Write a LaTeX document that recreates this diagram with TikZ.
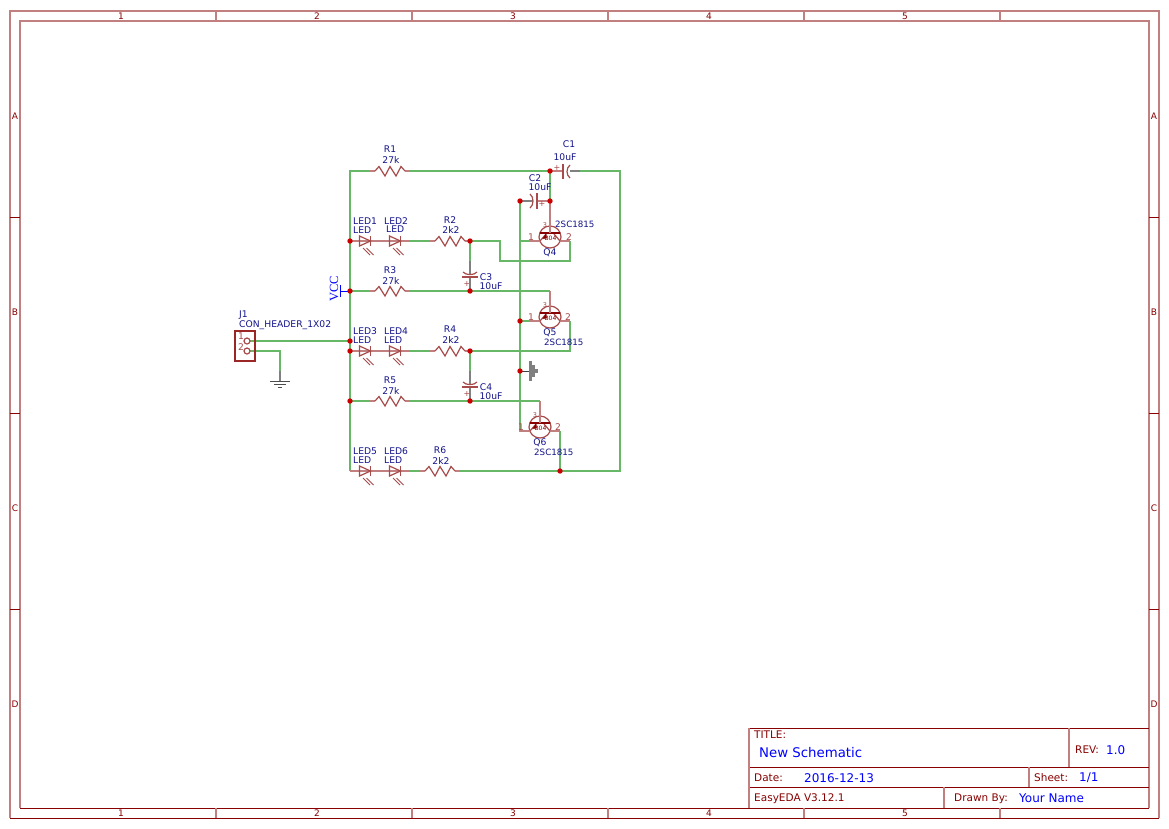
\documentclass[tikz,border=0pt]{standalone}
\usepackage{fontspec}
\setmainfont{DejaVu Sans}
\newfontfamily\vccfont{Liberation Serif}
\usepackage{xcolor}
\definecolor{sheetred}{HTML}{880000}
\definecolor{softred}{HTML}{C27F7F}
\definecolor{partred}{HTML}{A84A4A}
\definecolor{softgreen}{HTML}{66B866}
\definecolor{labelblue}{HTML}{14148C}
\definecolor{titleblue}{HTML}{0000FF}
\definecolor{dotred}{HTML}{CC0000}
\tikzset{
  frame/.style={draw=sheetred,line width=1pt},
  softframe/.style={draw=softred,line width=1.8pt},
  wire/.style={draw=softgreen,line width=1.5pt},
  part/.style={draw=partred,line width=1.2pt},
  softpart/.style={draw=softred,line width=1.6pt},
  lead/.style={draw=gray,line width=1.6pt},
  lbl/.style={text=labelblue,inner sep=0pt,font=\fontsize{9.2}{10}\selectfont},
  lblw/.style={lbl,anchor=west},
  partno/.style={lblw,font=\fontsize{8.7}{10}\selectfont},
  pinlbl/.style={text=partred,inner sep=0pt,font=\fontsize{9.2}{10}\selectfont},
  zone/.style={text=sheetred,inner sep=0pt,font=\fontsize{9}{10}\selectfont},
  tbred/.style={text=sheetred,inner sep=0pt,anchor=west,font=\fontsize{10.5}{12}\selectfont},
  tbblue/.style={text=titleblue,inner sep=0pt,anchor=west,font=\fontsize{12}{14}\selectfont},
  dot/.style={circle,fill=dotred,inner sep=0pt,minimum size=5.4pt},
  pics/resistor/.style={code={
    \draw[softpart] (0,0)--(5,0) (35,0)--(40,0);
    \draw[part] (5,0)--(9,-4.5)--(15,5)--(20,-4.5)--(26,5)--(31,-4.5)--(35,0);
  }},
  pics/led/.style={code={
    \draw[softpart] (0,0)--(30,0);
    \draw[part] (9.5,-5)--(9.5,5)--(20.5,0)--cycle;
    \draw[part] (20.5,-5)--(20.5,5);
    \draw[part,line width=0.8pt] (13,7)--(20,14);
    \draw[part,line width=0.8pt] (16.5,7)--(23.5,14);
  }},
  pics/npn/.style={code={
    \draw[part] (0,-4) circle (11);
    \draw[softpart] (-20,0)--(-10,0);
    \draw[softpart] (20,0)--(10,0);
    \draw[part] (-10,0)--(-4,-7);
    \draw[part] (10,0)--(4,-7);
    \draw[draw=sheetred,line width=1.6pt] (-10,-8)--(10,-8);
    \draw[draw=sheetred,fill=sheetred,line width=0.5pt] (-7,-2.5)--(-4,-7)--(-3.5,-3)--cycle;
    \node[pinlbl,font=\fontsize{6.5}{7}\selectfont] (-base) at (-5,-16) {3};
    \node[pinlbl,text=sheetred,font=\fontsize{6}{7}\selectfont] (-core) at (0.5,-2.5) {B04};
  }},
}
\begin{document}
\begin{tikzpicture}[x=1pt,y=-1pt]
  \useasboundingbox (0,0) rectangle (1169,828);
  \fill[white] (0,0) rectangle (1169,828);

  % sheet
  \draw[softframe] (10,818)--(10,11)--(1159,11)--(1159,818);
  \draw[softframe] (20,808)--(20,21)--(1149,21)--(1149,808);
  \draw[frame] (10,818)--(1159,818);
  \draw[frame] (20,808)--(1149,808);
  \draw[softframe] (216,11)--(216,21) (412,11)--(412,21) (608,11)--(608,21) (804,11)--(804,21) (1000,11)--(1000,21);
  \draw[softframe] (216,808)--(216,818) (412,808)--(412,818) (608,808)--(608,818) (804,808)--(804,818) (1000,808)--(1000,818);
  \draw[frame] (10,217)--(20,217) (10,413)--(20,413) (10,609)--(20,609);
  \draw[frame] (1149,217)--(1159,217) (1149,413)--(1159,413) (1149,609)--(1159,609);
  \node[zone] (top1) at (121,16) {1};
  \node[zone] (top2) at (317,16) {2};
  \node[zone] (top3) at (513,16) {3};
  \node[zone] (top4) at (709,16) {4};
  \node[zone] (top5) at (905,16) {5};
  \node[zone] (bot1) at (121,813) {1};
  \node[zone] (bot2) at (317,813) {2};
  \node[zone] (bot3) at (513,813) {3};
  \node[zone] (bot4) at (709,813) {4};
  \node[zone] (bot5) at (905,813) {5};
  \node[zone] (lefta) at (15,116) {A};
  \node[zone] (leftb) at (15,312) {B};
  \node[zone] (leftc) at (15,508) {C};
  \node[zone] (leftd) at (15,704) {D};
  \node[zone] (righta) at (1154,116) {A};
  \node[zone] (rightb) at (1154,312) {B};
  \node[zone] (rightc) at (1154,508) {C};
  \node[zone] (rightd) at (1154,704) {D};

  % title block
  \draw[frame] (749,728)--(1149,728) (749,767)--(1149,767) (749,787)--(1149,787);
  \draw[softframe] (749,728)--(749,808) (1069,728)--(1069,767) (1029,767)--(1029,787) (944,787)--(944,808);
  \node[tbred] (tbtitle) at (754,735) {TITLE:};
  \node[tbblue,font=\fontsize{13.3}{15}\selectfont] (tbname) at (759,753) {New Schematic};
  \node[tbred] (tbrev) at (1075,750) {REV:};
  \node[tbblue] (tbrevno) at (1106,750) {1.0};
  \node[tbred] (tbdate) at (754,778) {Date:};
  \node[tbblue] (tbdateno) at (804,778) {2016-12-13};
  \node[tbred] (tbsheet) at (1034,778) {Sheet:};
  \node[tbblue] (tbsheetno) at (1079,778) {1/1};
  \node[tbred] (tbeda) at (754,799) {EasyEDA V3.12.1};
  \node[tbred] (tbdrawn) at (954,799) {Drawn By:};
  \node[tbblue] (tbauthor) at (1019,798) {Your Name};

  % junctions and corners
  \coordinate (tl) at (350,171);
  \coordinate (tr) at (620,171);
  \coordinate (bl) at (350,471);
  \coordinate (br) at (620,471);
  \coordinate (vcc) at (350,291);
  \coordinate (c1n) at (550,171);
  \coordinate (c2n) at (550,201);
  \coordinate (c2p) at (520,201);
  \coordinate (l1n) at (350,241);
  \coordinate (r2n) at (470,241);
  \coordinate (c3n) at (470,291);
  \coordinate (l3n) at (350,351);
  \coordinate (j1n) at (350,341);
  \coordinate (r4n) at (470,351);
  \coordinate (l5n) at (350,401);
  \coordinate (c4n) at (470,401);
  \coordinate (q5n) at (520,321);
  \coordinate (gndn) at (520,371);
  \coordinate (q6n) at (520,431);
  \coordinate (q6e) at (560,471);

  % wires
  \draw[wire] (bl)--(tl)--(370,171);
  \draw[wire] (410,171)--(c1n);
  \draw[wire] (580,171)--(tr)--(br)--(460,471);
  \draw[wire] (410,471)--(420,471);
  \draw[wire] (c1n)--(c2n);
  \draw[wire] (c2p)--(q6n)--(530,431);
  \draw[wire] (410,241)--(430,241);
  \draw[wire] (r2n)--(500,241)--(500,261)--(570,261)--(570,241);
  \draw[wire] (r2n)--(470,261);
  \draw[wire] (vcc)--(370,291);
  \draw[wire] (410,291)--(550,291);
  \draw[wire] (520,241)--(530,241);
  \draw[wire] (q5n)--(530,321);
  \draw[wire] (570,321)--(570,351)--(r4n);
  \draw[wire] (410,351)--(430,351);
  \draw[wire] (r4n)--(470,371);
  \draw[wire] (l5n)--(370,401);
  \draw[wire] (410,401)--(540,401);
  \draw[wire] (560,431)--(q6e);
  \draw[wire] (250,341)--(j1n);
  \draw[wire] (250,351)--(280,351)--(280,371);

  % components
  \pic (r1) at (370,171) {resistor};
  \pic (r2) at (430,241) {resistor};
  \pic (r3) at (370,291) {resistor};
  \pic (r4) at (430,351) {resistor};
  \pic (r5) at (370,401) {resistor};
  \pic (r6) at (420,471) {resistor};
  \pic (led1) at (350,241) {led};
  \pic (led2) at (380,241) {led};
  \pic (led3) at (350,351) {led};
  \pic (led4) at (380,351) {led};
  \pic (led5) at (350,471) {led};
  \pic (led6) at (380,471) {led};
  \pic (q4) at (550,241) {npn};
  \pic (q5) at (550,321) {npn};
  \pic (q6) at (540,431) {npn};

  % transistor base leads
  \draw[softpart] (c2n)--(550,233);
  \draw[softpart] (550,291)--(550,313);
  \draw[softpart] (540,401)--(540,423);

  % C1
  \draw[softpart] (c1n)--(563,171);
  \draw[lead] (570,171)--(580,171);
  \draw[part] (563,164)--(563,179);
  \draw[part] (570,165) .. controls (566,168) and (566,175) .. (570,178);
  \node[pinlbl,font=\fontsize{8}{9}\selectfont] (c1plus) at (557,168) {+};
  % C2
  \draw[lead] (c2p)--(533,201);
  \draw[softpart] (537,201)--(c2n);
  \draw[part] (537,193)--(537,209);
  \draw[part] (530,194) .. controls (534,197) and (534,205) .. (530,208);
  \node[pinlbl,font=\fontsize{8}{9}\selectfont] (c2plus) at (542,204) {+};
  % C3
  \draw[lead] (470,261)--(470,274);
  \draw[lead] (470,277)--(c3n);
  \draw[part] (462,277)--(478,277);
  \draw[part] (463,272) .. controls (466,275.5) and (474,275.5) .. (477,272);
  \node[pinlbl,font=\fontsize{8}{9}\selectfont] (c3plus) at (467,284) {+};
  % C4
  \draw[lead] (470,371)--(470,384);
  \draw[lead] (470,387)--(c4n);
  \draw[part] (462,387)--(478,387);
  \draw[part] (463,382) .. controls (466,385.5) and (474,385.5) .. (477,382);
  \node[pinlbl,font=\fontsize{8}{9}\selectfont] (c4plus) at (467,394) {+};

  % VCC
  \draw[draw=titleblue,line width=1pt] (340,291)--(vcc);
  \draw[draw=titleblue,line width=1pt] (340,285)--(340,297);
  \node[text=titleblue,inner sep=0pt,rotate=90,font=\vccfont\fontsize{12.5}{14}\selectfont] (vcclbl) at (334,289) {VCC};

  % J1 and ground
  \draw[draw=sheetred!85,line width=2.2pt] (235,331) rectangle (255,361);
  \draw[part] (247,341) circle (3);
  \draw[part] (247,351) circle (3);
  \node[pinlbl] (j1a) at (241,336) {1};
  \node[pinlbl] (j1b) at (241,347) {2};
  \draw[lead] (280,371)--(280,381);
  \draw[draw=black!70,line width=1pt] (270,381)--(290,381) (274,384)--(286,384) (278,387)--(282,387);

  % second ground
  \draw[draw=black!75,line width=1pt] (gndn)--(529,371);
  \draw[draw=gray,line width=3pt] (530.5,361)--(530.5,381) (533.5,365)--(533.5,377) (536.5,369)--(536.5,373);

  % dots
  \node[dot] (d1) at (c1n) {};
  \node[dot] (d2) at (c2n) {};
  \node[dot] (d3) at (c2p) {};
  \node[dot] (d4) at (l1n) {};
  \node[dot] (d5) at (r2n) {};
  \node[dot] (d6) at (vcc) {};
  \node[dot] (d7) at (c3n) {};
  \node[dot] (d8) at (j1n) {};
  \node[dot] (d9) at (l3n) {};
  \node[dot] (d10) at (r4n) {};
  \node[dot] (d11) at (l5n) {};
  \node[dot] (d12) at (c4n) {};
  \node[dot] (d13) at (q5n) {};
  \node[dot] (d14) at (gndn) {};
  \node[dot] (d15) at (q6e) {};

  % labels
  \node[lbl] (r1name) at (390,149) {R1};
  \node[lbl] (r1val) at (391,160) {27k};
  \node[lbl] (c1name) at (569,144) {C1};
  \node[lbl] (c1val) at (565,157) {10uF};
  \node[lbl] (c2name) at (535,178) {C2};
  \node[lbl] (c2val) at (540,187) {10uF};
  \node[lblw] (led1name) at (353,221) {LED1};
  \node[lblw] (led1val) at (353,230) {LED};
  \node[lblw] (led2name) at (384,221) {LED2};
  \node[lblw] (led2val) at (386,229) {LED};
  \node[lbl] (r2name) at (450,220) {R2};
  \node[lbl] (r2val) at (451,230) {2k2};
  \node[partno] (q4val) at (555,224) {2SC1815};
  \node[lbl] (q4name) at (550,253) {Q4};
  \node[pinlbl] (q4a) at (531,237) {1};
  \node[pinlbl] (q4b) at (569,237) {2};
  \node[lbl] (r3name) at (390,270) {R3};
  \node[lbl] (r3val) at (391,281) {27k};
  \node[lbl] (c3name) at (486,277) {C3};
  \node[lbl] (c3val) at (491,286) {10uF};
  \node[lblw] (j1name) at (239,315) {J1};
  \node[lblw] (j1val) at (239,325) {CON\_HEADER\_1X02};
  \node[lblw] (led3name) at (353,331) {LED3};
  \node[lblw] (led3val) at (353,340) {LED};
  \node[lblw] (led4name) at (384,331) {LED4};
  \node[lblw] (led4val) at (384,340) {LED};
  \node[lbl] (r4name) at (450,329) {R4};
  \node[lbl] (r4val) at (451,340) {2k2};
  \node[lbl] (q5name) at (550,333) {Q5};
  \node[partno] (q5val) at (544,342) {2SC1815};
  \node[pinlbl] (q5a) at (531,317) {1};
  \node[pinlbl] (q5b) at (568,317) {2};
  \node[lbl] (r5name) at (390,380) {R5};
  \node[lbl] (r5val) at (391,391) {27k};
  \node[lbl] (c4name) at (486,387) {C4};
  \node[lbl] (c4val) at (491,396) {10uF};
  \node[lbl] (q6name) at (540,443) {Q6};
  \node[partno] (q6val) at (534,452) {2SC1815};
  \node[pinlbl] (q6a) at (521,427) {1};
  \node[pinlbl] (q6b) at (558,427) {2};
  \node[lblw] (led5name) at (353,451) {LED5};
  \node[lblw] (led5val) at (353,460) {LED};
  \node[lblw] (led6name) at (384,451) {LED6};
  \node[lblw] (led6val) at (384,460) {LED};
  \node[lbl] (r6name) at (440,450) {R6};
  \node[lbl] (r6val) at (441,461) {2k2};
\end{tikzpicture}
\end{document}
